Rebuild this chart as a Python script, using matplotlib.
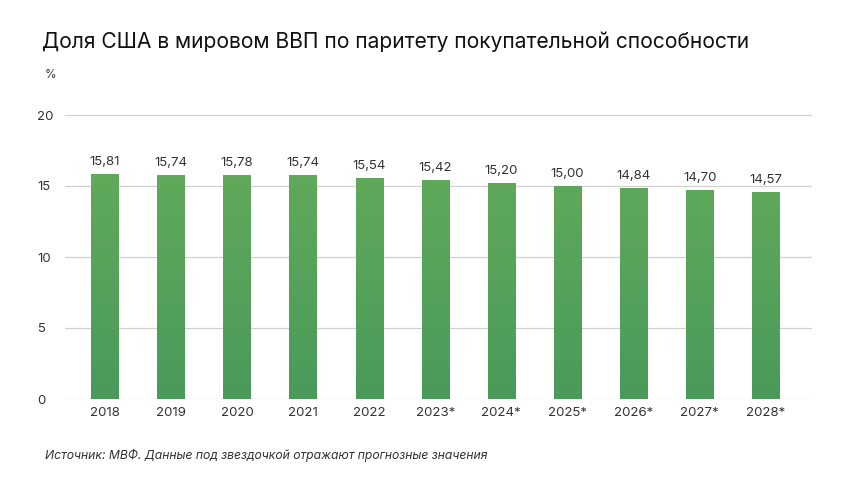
import matplotlib
matplotlib.use("Agg")
import matplotlib.pyplot as plt
import numpy as np
from matplotlib.colors import LinearSegmentedColormap

years = ["2018", "2019", "2020", "2021", "2022", "2023*", "2024*", "2025*", "2026*", "2027*", "2028*"]
values = [15.81, 15.74, 15.78, 15.74, 15.54, 15.42, 15.20, 15.00, 14.84, 14.70, 14.57]
yticks = [0, 5, 10, 15, 20]

plt.rcParams["font.family"] = "Inter"
fig = plt.figure(figsize=(8.6, 4.84), dpi=100)
ax = fig.add_axes([65/860, 1-399/484, (812-65)/860, (399-100.8)/484])
ax.set_xlim(-0.6, 10.7)
ax.set_ylim(0, 21)
x = np.arange(len(years))
bars = ax.bar(x, values, width=0.41, color="#5aa35a", zorder=2)
cmap = LinearSegmentedColormap.from_list("g", ["#4a9a5a", "#68ae5b"])
grad = np.linspace(0, 1, 256).reshape(-1, 1)
for b in bars:
    im = ax.imshow(grad, cmap=cmap, origin="lower", aspect="auto",
                   extent=[b.get_x(), b.get_x()+b.get_width(), 0, 21], zorder=3)
    im.set_clip_path(b)
ax.set_xlim(-0.6, 10.7)
ax.set_ylim(0, 21)
for xi, v in zip(x, values):
    ax.text(xi, v + 0.45, f"{v:.2f}".replace(".", ","), ha="center", va="bottom",
            fontsize=9.5, color="#333333")
ax.set_yticks(yticks)
ax.grid(axis="y", color="#d0d0d0", linewidth=0.9, zorder=0)
ax.set_axisbelow(True)
for s in ax.spines.values():
    s.set_visible(False)
ax.tick_params(length=0)
ax.set_yticklabels([str(t) for t in yticks], fontsize=9.5, color="#333333", ha="left")
ax.tick_params(axis="y", pad=20)
ax.set_xticks(x)
ax.set_xticklabels(years, fontsize=9.5, color="#333333")
ax.tick_params(axis="x", pad=6)

fig.text(42/860, 1-42/484, "Доля США в мировом ВВП по паритету покупательной способности",
         fontsize=15.1, color="#111111", va="center", ha="left")
fig.text(45/860, 1-75/484, "%", fontsize=8.5, color="#333333", va="center", ha="left")
fig.text(45/860, 1-455/484, "Источник: МВФ. Данные под звездочкой отражают прогнозные значения",
         fontsize=8.75, style="italic", color="#333333", va="center", ha="left")
fig.savefig("out.png", dpi=100)
